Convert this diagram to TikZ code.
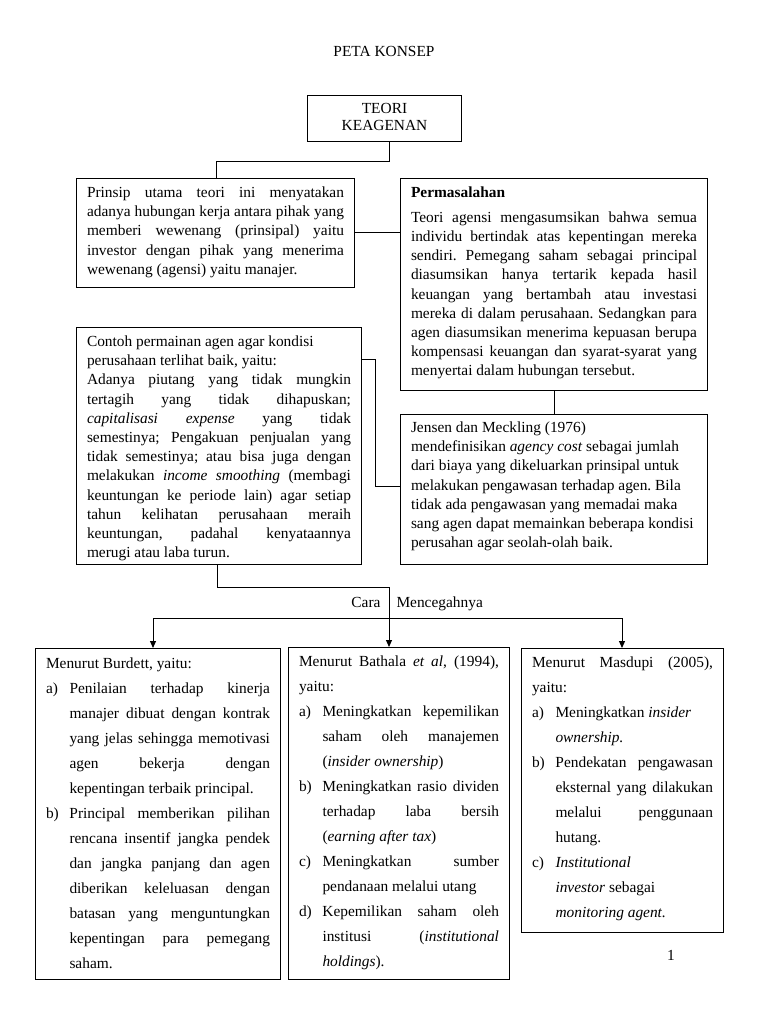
\documentclass[tikz,border=0pt]{standalone}
\usepackage{fontspec}
\setmainfont{Liberation Serif}
\usetikzlibrary{arrows.meta}
\newcommand{\isi}{\fontsize{15.4}{19.2}\selectfont}
\newcommand{\isibawah}{\fontsize{15.4}{25}\selectfont}
\newcommand{\butir}[2]{\par\noindent\hangindent=23.5pt\hangafter=1\makebox[23.5pt][l]{#1}#2\par}
\hyphenpenalty=10000
\exhyphenpenalty=10000
\tolerance=10000
\hbadness=10000
\frenchspacing
\tikzset{
  kotak/.style={draw,line width=1pt,anchor=north west,inner xsep=10.5pt,inner ysep=0pt,align=justify,font=\isi},
  kotakbawah/.style={kotak,font=\isibawah},
  panah/.style={-{Triangle[length=7pt,width=6pt]}}
}
\begin{document}
\begin{tikzpicture}[x=1pt,y=-1pt,line width=1pt]
  \useasboundingbox (0,0) rectangle (768,1024);
  \node (judul) at (384,57) [anchor=base,inner sep=0pt,font=\isi] {PETA KONSEP};
  \node (teori) at (307,95) [kotak,align=center,text width=133pt,text height=18pt,text depth=28pt,font=\fontsize{15.4}{17}\selectfont] {TEORI\\KEAGENAN};
  \node (prinsip) at (76,178) [kotak,text width=257pt,text height=19pt,text depth=90pt] {Prinsip utama teori ini menyatakan\linebreak adanya hubungan kerja antara pihak yang\linebreak memberi wewenang (prinsipal) yaitu\linebreak investor dengan pihak yang menerima\linebreak wewenang (agensi) yaitu manajer.};
  \node (masalah) at (400,178) [kotak,text width=286pt,text height=19pt,text depth=193pt] {\textbf{Permasalahan}\par\vspace{5.6pt}Teori agensi mengasumsikan bahwa semua\linebreak individu bertindak atas kepentingan mereka\linebreak sendiri. Pemegang saham sebagai principal\linebreak diasumsikan hanya tertarik kepada hasil\linebreak keuangan yang bertambah atau investasi\linebreak mereka di dalam perusahaan. Sedangkan para\linebreak agen diasumsikan menerima kepuasan berupa\linebreak kompensasi keuangan dan syarat-syarat yang\linebreak menyertai dalam hubungan tersebut.};
  \node (contoh) at (76,327) [kotak,text width=264pt,text height=19pt,text depth=218pt] {Contoh permainan agen agar kondisi\newline perusahaan terlihat baik, yaitu:\par Adanya piutang yang tidak mungkin\linebreak tertagih yang tidak dihapuskan;\linebreak \textit{capitalisasi} \textit{expense} yang tidak\linebreak semestinya; Pengakuan penjualan yang\linebreak tidak semestinya; atau bisa juga dengan\linebreak melakukan \textit{income smoothing} (membagi\linebreak keuntungan ke periode lain) agar setiap\linebreak tahun kelihatan perusahaan meraih\linebreak keuntungan, padahal kenyataannya\linebreak merugi atau laba turun.};
  \node (jensen) at (400,414) [kotak,text width=286pt,text height=18pt,text depth=132pt] {Jensen dan Meckling (1976)\newline mendefinisikan \textit{agency cost} sebagai jumlah\newline dari biaya yang dikeluarkan prinsipal untuk\newline melakukan pengawasan terhadap agen. Bila\newline tidak ada pengawasan yang memadai maka\newline sang agen dapat memainkan beberapa kondisi\newline perusahan agar seolah-olah baik.};
  \node (cara) at (381,607) [anchor=base east,inner sep=0pt,font=\isi] {Cara};
  \node (cegah) at (396,607) [anchor=base west,inner sep=0pt,font=\isi] {Mencegahnya};
  \node (burdett) at (35,648) [kotakbawah,text width=224pt,text height=20pt,text depth=311pt] {Menurut Burdett, yaitu:
    \butir{a)}{Penilaian terhadap kinerja\linebreak manajer dibuat dengan kontrak\linebreak yang jelas sehingga memotivasi\linebreak agen bekerja dengan\linebreak kepentingan terbaik principal.}
    \butir{b)}{Principal memberikan pilihan\linebreak rencana insentif jangka pendek\linebreak dan jangka panjang dan agen\linebreak diberikan keleluasan dengan\linebreak batasan yang menguntungkan\linebreak kepentingan para pemegang\linebreak saham.}};
  \node (bathala) at (288,647) [kotakbawah,text width=200pt,text height=19pt,text depth=313pt] {Menurut Bathala \textit{et al}, (1994),\linebreak yaitu:
    \butir{a)}{Meningkatkan kepemilikan\linebreak saham oleh manajemen\linebreak (\textit{insider ownership})}
    \butir{b)}{Meningkatkan rasio dividen\linebreak terhadap laba bersih\linebreak (\textit{earning after tax})}
    \butir{c)}{Meningkatkan sumber\linebreak pendanaan melalui utang}
    \butir{d)}{Kepemilikan saham oleh\linebreak institusi (\textit{institutional}\linebreak \textit{holdings}).}};
  \node (masdupi) at (521,648) [kotakbawah,text width=181pt,text height=19pt,text depth=265pt] {Menurut Masdupi (2005),\linebreak yaitu:
    \butir{a)}{Meningkatkan \textit{insider}\newline \textit{ownership.}}
    \butir{b)}{Pendekatan pengawasan\linebreak eksternal yang dilakukan\linebreak melalui penggunaan\linebreak hutang.}
    \butir{c)}{\textit{Institutional}\newline \textit{investor} sebagai\newline \textit{monitoring agent.}}};
  \node (hal) at (671,960) [anchor=base,inner sep=0pt,font=\isi] {1};
  \coordinate (t1) at (389,162);
  \coordinate (t2) at (216,162);
  \coordinate (k1) at (375,359);
  \coordinate (k2) at (375,486);
  \coordinate (m1) at (217,587);
  \coordinate (m2) at (389,587);
  \coordinate (h1) at (153,618);
  \coordinate (h2) at (622,618);
  \draw (teori.south -| t1) -- (t1) -- (t2) -- (prinsip.north -| t2);
  \draw (prinsip.east) -- (prinsip.east -| masalah.west);
  \draw (masalah.south) -- (jensen.north);
  \draw (contoh.east |- k1) -- (k1) -- (k2) -- (k2 -| jensen.west);
  \draw [panah] (contoh.south -| m1) -- (m1) -- (m2) -- (m2 |- bathala.north);
  \draw (h1) -- (h2);
  \draw [panah] (h1) -- (h1 |- burdett.north);
  \draw [panah] (h2) -- (h2 |- masdupi.north);
\end{tikzpicture}
\end{document}
